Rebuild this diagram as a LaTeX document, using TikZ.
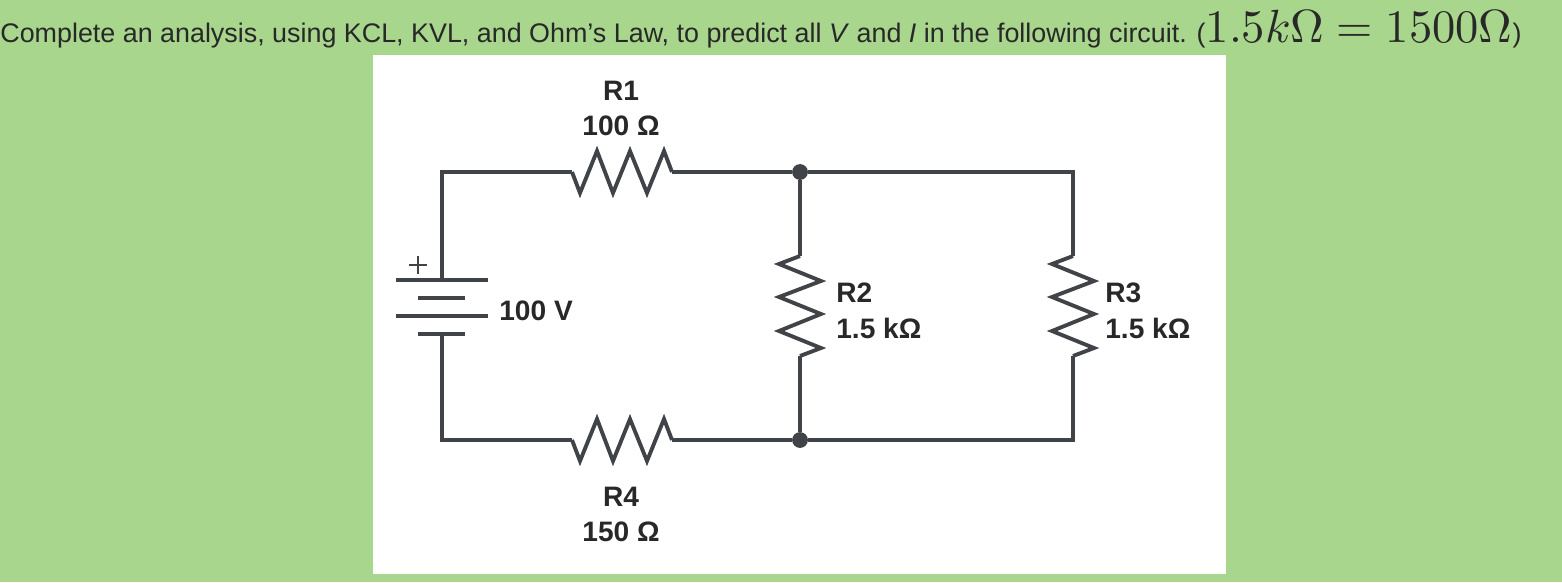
\documentclass[tikz,border=0pt]{standalone}
\usepackage{fontspec}
\setmainfont{Liberation Sans}
\usepackage{amsmath}
\usepackage{unicode-math}
\setmathfont{Latin Modern Math}
\definecolor{bggreen}{RGB}{168,214,140}
\definecolor{wire}{RGB}{64,68,72}
\definecolor{txt}{RGB}{40,40,40}
\tikzset{
  w/.style={draw=wire,line width=2.2pt,line cap=butt,line join=miter},
  lbl/.style={text=txt,font=\fontsize{16}{18}\selectfont\bfseries,inner sep=0pt},
  dot/.style={circle,fill=wire,minimum size=9pt,inner sep=0pt}
}
\begin{document}
\begin{tikzpicture}[x=0.02cm,y=-0.02cm]
\useasboundingbox (0,0) rectangle (1562,582);
\fill[bggreen] (0,0) rectangle (1562,582);
\fill[white] (373,55) rectangle (1226,574);
\node[anchor=base west,inner sep=0pt,font=\fontsize{15.3}{18}\selectfont,text=txt] (title) at (0,42)
  {Complete an analysis, using KCL, KVL, and Ohm’s Law, to predict all \emph{V} and \emph{I} in the following circuit. ({\fontsize{26.5}{28}\selectfont$1.5k\Omega = 1500\Omega$})};
% corners and junctions
\coordinate (tl) at (442,172);
\coordinate (tr) at (1073,172);
\coordinate (bl) at (442,440);
\coordinate (br) at (1073,440);
\node[dot] (ja) at (800,172) {};
\node[dot] (jb) at (800,440) {};
\coordinate (bt) at (442,280);
\coordinate (bb) at (442,334);
% R1
\coordinate (r1a) at (572,172); \coordinate (r1b) at (672,172);
\draw[w] (r1a) -- ++(8,21) -- ++(17,-42) -- ++(16,42) -- ++(17,-42) -- ++(17,42) -- ++(17,-42) -- (r1b);
% R4
\coordinate (r4a) at (572,440); \coordinate (r4b) at (672,440);
\draw[w] (r4a) -- ++(8,21) -- ++(17,-42) -- ++(16,42) -- ++(17,-42) -- ++(17,42) -- ++(17,-42) -- (r4b);
% R2
\coordinate (r2a) at (800,256); \coordinate (r2b) at (800,356);
\draw[w] (r2a) -- ++(-21,8) -- ++(42,17) -- ++(-42,16) -- ++(42,17) -- ++(-42,17) -- ++(42,17) -- (r2b);
% R3
\coordinate (r3a) at (1073,256); \coordinate (r3b) at (1073,356);
\draw[w] (r3a) -- ++(-21,8) -- ++(42,17) -- ++(-42,16) -- ++(42,17) -- ++(-42,17) -- ++(42,17) -- (r3b);
% wires
\draw[w] (bt) -- (tl) -- (r1a);
\draw[w] (r1b) -- (ja) -- (tr) -- (r3a);
\draw[w] (r3b) -- (br) -- (jb) -- (r4b);
\draw[w] (r4a) -- (bl) -- (bb);
\draw[w] (ja) -- (r2a);
\draw[w] (r2b) -- (jb);
% battery
\draw[w] (396,280) -- (488,280);
\draw[w] (418,298) -- (465,298);
\draw[w] (396,316) -- (488,316);
\draw[w] (418,334) -- (465,334);
\draw[draw=wire,line width=1.2pt] (409,265) -- (427,265) (418,256) -- (418,274);
% labels
\node[lbl,anchor=west] (v) at (499,311) {100 V};
\node[lbl] (l1a) at (621,91) {R1};
\node[lbl] (l1b) at (621,126) {100 Ω};
\node[lbl] (l4a) at (621,497) {R4};
\node[lbl] (l4b) at (621,532) {150 Ω};
\node[lbl,anchor=west] (l2a) at (836,293) {R2};
\node[lbl,anchor=west] (l2b) at (836,328) {1.5 kΩ};
\node[lbl,anchor=west] (l3a) at (1105,293) {R3};
\node[lbl,anchor=west] (l3b) at (1105,328) {1.5 kΩ};
\end{tikzpicture}
\end{document}
